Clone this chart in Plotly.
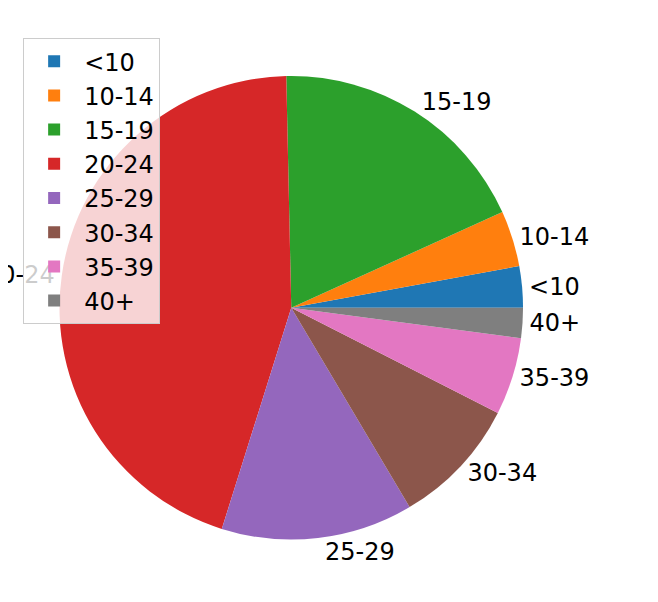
import plotly.graph_objects as go

labels = ['<10', '10-14', '15-19', '20-24', '25-29', '30-34', '35-39', '40+']
values = [2.9, 3.9, 18.6, 44.9, 13.4, 9.0, 5.4, 2.1]
colors = ['#1f77b4', '#ff7f0e', '#2ca02c', '#d62728', '#9467bd', '#8c564b', '#e377c2', '#7f7f7f']

fig = go.Figure(go.Pie(
    labels=labels, values=values, sort=False,
    direction='counterclockwise', rotation=79.6,
    marker=dict(colors=colors),
    textinfo='label', textposition='outside',
    textfont=dict(size=24, color='black'),
    domain=dict(x=[0.078, 0.783], y=[0.117, 0.887]),
    automargin=False, showlegend=True,
))
fig.update_layout(
    width=658, height=602,
    margin=dict(l=0, r=0, t=0, b=0),
    paper_bgcolor='white',
    font=dict(family='DejaVu Sans', size=24, color='black'),
    legend=dict(x=0.023, y=0.95, xanchor='left', yanchor='top',
                bgcolor='rgba(255,255,255,0.8)', bordercolor='#cccccc',
                borderwidth=1, font=dict(size=24), tracegroupgap=0,
                itemwidth=50),
)
fig.write_html("out.html")
